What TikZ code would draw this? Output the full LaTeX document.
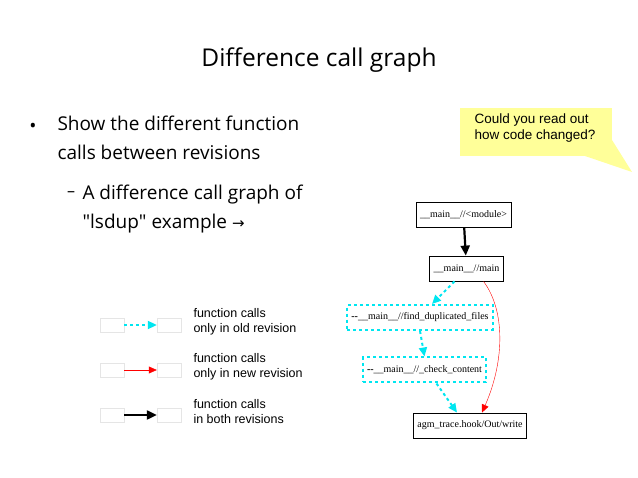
\documentclass[tikz,border=0pt]{standalone}
\usepackage{fontspec}
\setmainfont{Open Sans}
\newfontfamily\graphfont{Liberation Serif}
\newfontfamily\legfont{Liberation Sans}
\newfontfamily\symfont{DejaVu Sans}
\usetikzlibrary{positioning,arrows.meta}
\definecolor{oldcyan}{RGB}{0,230,240}
\definecolor{notey}{RGB}{255,255,153}
\tikzset{fn/.style={draw,thick,rectangle,minimum height=25pt,inner sep=4pt,font=\graphfont\fontsize{10}{12}\selectfont},
  oldfn/.style={fn,draw=oldcyan,dashed,line width=2pt},
  dummy/.style={draw=black!10,minimum width=24pt,minimum height=14pt,inner sep=0pt},
  oldcall/.style={-{Triangle[length=9pt,width=8pt]},oldcyan,dashed,line width=2pt},
  newcall/.style={-{Triangle[length=8pt,width=7pt]},red},
  bothcall/.style={-{Triangle[length=10pt,width=9pt]},line width=2.2pt},
  legtext/.style={anchor=west,align=left,font=\legfont\fontsize{12.5}{15}\selectfont}}
\begin{document}
\begin{tikzpicture}[x=1pt,y=-1pt]
    \useasboundingbox (0,0) rectangle (638,478);
    \node (title) at (319,60) {\fontsize{24.5}{28}\selectfont Difference call graph};
    \node[font=\fontsize{19}{22}\selectfont] (b1) at (33,128) {\textbullet};
    \node[anchor=north west,align=left,font=\fontsize{19}{29}\selectfont] (t1) at (54,112) {Show the different function\\calls between revisions};
    \node[font=\fontsize{16}{18}\selectfont] (b2) at (71,194) {–};
    \node[anchor=north west,align=left,font=\fontsize{19}{29}\selectfont] (t2) at (79,181) {A difference call graph of\\\textquotedbl lsdup\textquotedbl{} example {\symfont\fontsize{15}{18}\selectfont→}};

    % callout
    \coordinate (tip) at (632,172);
    \fill[notey] (460,108) rectangle (612,156);
    \fill[notey] (585,156) -- (tip) -- (612,140) -- cycle;
    \node[anchor=north west,align=left,font=\legfont\fontsize{13.5}{16}\selectfont] (note) at (471,110) {Could you read out\\how code changed?};

    % call graph
    \node[fn] (module) at (463.5,215) {\_\_main\_\_//<module>};
    \node[fn] (main) at (466.5,268.5) {\_\_main\_\_//main};
    \node[oldfn] (find) at (420,317.5) {\textbf{--}\_\_main\_\_//find\_duplicated\_files};
    \node[oldfn] (check) at (424.5,370) {\textbf{--}\_\_main\_\_//\_check\_content};
    \node[fn] (write) at (470,425.5) {agm\_trace.hook/Out/write};

    \draw[bothcall] (module) -- (main);
    \draw[oldcall] ([xshift=-12pt]main.south) -- ([xshift=12pt]find.north);
    \draw[oldcall] (find.south) -- (check.north);
    \draw[oldcall] ([xshift=12pt]check.south) -- ([xshift=-13pt]write.north);
    \draw[newcall] ([xshift=17pt]main.south) .. controls (505,310) and (505,360) .. ([xshift=12pt]write.north);

    % legend
    \foreach \n/\y/\kind/\txt in {1/325/oldcall/only in old revision,2/370/newcall/only in new revision,3/415/bothcall/in both revisions}{
      \node[dummy] (l\n) at (112,\y) {};
      \node[dummy] (r\n) at (169,\y) {};
      \draw[\kind] (l\n) -- (r\n);
      \node[legtext] (txt\n) at (190,\y-3) {function calls\\\txt};
    }
\end{tikzpicture}
\end{document}
